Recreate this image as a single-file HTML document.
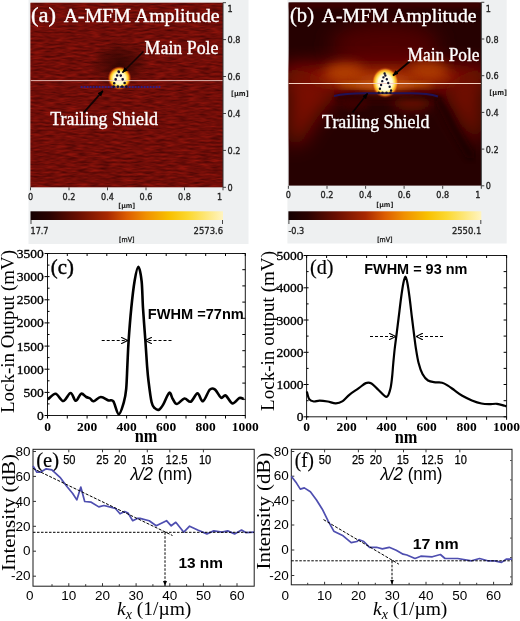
<!DOCTYPE html>
<html><head><meta charset="utf-8"><title>A-MFM figure</title>
<style>html,body{margin:0;padding:0;background:#fff;} svg{display:block;}</style>
</head><body>
<svg width="520" height="621" viewBox="0 0 520 621">
<defs>
<linearGradient id="cb" x1="0" x2="1" y1="0" y2="0">
 <stop offset="0" stop-color="#140000"/>
 <stop offset="0.1" stop-color="#2a0200"/>
 <stop offset="0.25" stop-color="#6a0e00"/>
 <stop offset="0.4" stop-color="#a82800"/>
 <stop offset="0.5" stop-color="#dc5c00"/>
 <stop offset="0.6" stop-color="#f09000"/>
 <stop offset="0.72" stop-color="#f8c000"/>
 <stop offset="0.82" stop-color="#fcd830"/>
 <stop offset="0.92" stop-color="#fde880"/>
 <stop offset="1" stop-color="#fff4c0"/>
</linearGradient>
<radialGradient id="hotA" cx="0.5" cy="0.5" r="0.5">
 <stop offset="0" stop-color="#fffff0"/>
 <stop offset="0.5" stop-color="#fff8c0"/>
 <stop offset="0.66" stop-color="#ffe040"/>
 <stop offset="0.8" stop-color="#f09010"/>
 <stop offset="0.92" stop-color="#b03008" stop-opacity="0.6"/>
 <stop offset="1" stop-color="#8a1e0c" stop-opacity="0"/>
</radialGradient>
<radialGradient id="darkA" cx="0.5" cy="0.5" r="0.5">
 <stop offset="0" stop-color="#2a0400" stop-opacity="0.85"/>
 <stop offset="0.55" stop-color="#3a0602" stop-opacity="0.55"/>
 <stop offset="1" stop-color="#400a02" stop-opacity="0"/>
</radialGradient>
<radialGradient id="hotB" cx="0.5" cy="0.5" r="0.5">
 <stop offset="0" stop-color="#ffffff"/>
 <stop offset="0.5" stop-color="#fffce0"/>
 <stop offset="0.68" stop-color="#ffe050"/>
 <stop offset="0.82" stop-color="#f09018"/>
 <stop offset="0.92" stop-color="#b84010" stop-opacity="0.5"/>
 <stop offset="1" stop-color="#a03008" stop-opacity="0"/>
</radialGradient>
<radialGradient id="glowB" cx="0.5" cy="0.5" r="0.5">
 <stop offset="0" stop-color="#c84c12" stop-opacity="0.9"/>
 <stop offset="0.5" stop-color="#a83210" stop-opacity="0.6"/>
 <stop offset="1" stop-color="#8a2410" stop-opacity="0"/>
</radialGradient>
<linearGradient id="bgB" x1="0" x2="0" y1="0" y2="1">
 <stop offset="0" stop-color="#4a0c08"/>
 <stop offset="0.2" stop-color="#581008"/>
 <stop offset="0.4" stop-color="#7c1e0c"/>
 <stop offset="0.5" stop-color="#6e180a"/>
 <stop offset="0.7" stop-color="#4c0e08"/>
 <stop offset="1" stop-color="#3c0a06"/>
</linearGradient>
<filter id="noiseA" x="0" y="0" width="1" height="1" color-interpolation-filters="sRGB">
 <feTurbulence type="fractalNoise" baseFrequency="0.09 0.5" numOctaves="2" seed="7"/>
 <feColorMatrix type="matrix" values="0.4 0 0 0 0.24  0.08 0 0 0 0.012  0.04 0 0 0 0.011  0 0 0 0 1"/>
</filter>
<filter id="blur2" x="-20%" y="-100%" width="140%" height="300%"><feGaussianBlur stdDeviation="2"/></filter>
<filter id="blur3"><feGaussianBlur stdDeviation="3"/></filter>
<filter id="blur6" x="-50%" y="-50%" width="200%" height="200%"><feGaussianBlur stdDeviation="6"/></filter>
<filter id="blur10" x="-50%" y="-50%" width="200%" height="200%"><feGaussianBlur stdDeviation="10"/></filter>
<clipPath id="clipA"><rect x="30.5" y="2.7" width="192.5" height="184.6"/></clipPath>
<clipPath id="clipB"><rect x="288.4" y="2.3" width="192.9" height="183.5"/></clipPath>
<marker id="ah" viewBox="0 0 10 10" refX="9" refY="5" markerWidth="7" markerHeight="7" orient="auto-start-reverse" markerUnits="userSpaceOnUse">
 <path d="M0,0 L10,5 L0,10" fill="none" stroke="#000" stroke-width="1.6"/>
</marker>
<marker id="ahs" viewBox="0 0 10 10" refX="9" refY="5" markerWidth="5" markerHeight="5" orient="auto" markerUnits="userSpaceOnUse">
 <path d="M0,0 L10,5 L0,10" fill="none" stroke="#000" stroke-width="1.5"/>
</marker>
<marker id="ahd" viewBox="0 0 10 10" refX="10" refY="5" markerWidth="5" markerHeight="5" orient="auto" markerUnits="userSpaceOnUse">
 <path d="M0,1 L10,5 L0,9 z" fill="#000"/>
</marker>
<marker id="ahf" viewBox="0 0 10 10" refX="9" refY="5" markerWidth="6" markerHeight="6" orient="auto" markerUnits="userSpaceOnUse">
 <path d="M0,1 L10,5 L0,9 z" fill="#000"/>
</marker>
</defs>
<rect width="520" height="621" fill="#fff"/>
<rect x="28.5" y="0" width="220.0" height="244" fill="#eef0f1"/>
<line x1="223" y1="187.3" x2="226" y2="187.3" stroke="#444" stroke-width="1"/>
<text x="227.5" y="190.8" font-family="'DejaVu Sans Condensed', 'DejaVu Sans', sans-serif" font-size="9" fill="#222" text-anchor="start" font-weight="normal" font-style="normal"  stroke="#222" stroke-width="0.3">0</text>
<line x1="223" y1="150.4" x2="226" y2="150.4" stroke="#444" stroke-width="1"/>
<text x="227.5" y="153.88" font-family="'DejaVu Sans Condensed', 'DejaVu Sans', sans-serif" font-size="9" fill="#222" text-anchor="start" font-weight="normal" font-style="normal"  stroke="#222" stroke-width="0.3">0.2</text>
<line x1="223" y1="113.5" x2="226" y2="113.5" stroke="#444" stroke-width="1"/>
<text x="227.5" y="116.96" font-family="'DejaVu Sans Condensed', 'DejaVu Sans', sans-serif" font-size="9" fill="#222" text-anchor="start" font-weight="normal" font-style="normal"  stroke="#222" stroke-width="0.3">0.4</text>
<line x1="223" y1="76.5" x2="226" y2="76.5" stroke="#444" stroke-width="1"/>
<text x="227.5" y="80.03999999999998" font-family="'DejaVu Sans Condensed', 'DejaVu Sans', sans-serif" font-size="9" fill="#222" text-anchor="start" font-weight="normal" font-style="normal"  stroke="#222" stroke-width="0.3">0.6</text>
<line x1="223" y1="39.6" x2="226" y2="39.6" stroke="#444" stroke-width="1"/>
<text x="227.5" y="43.119999999999976" font-family="'DejaVu Sans Condensed', 'DejaVu Sans', sans-serif" font-size="9" fill="#222" text-anchor="start" font-weight="normal" font-style="normal"  stroke="#222" stroke-width="0.3">0.8</text>
<line x1="223" y1="2.7" x2="226" y2="2.7" stroke="#444" stroke-width="1"/>
<text x="227.5" y="12.199999999999989" font-family="'DejaVu Sans Condensed', 'DejaVu Sans', sans-serif" font-size="9" fill="#222" text-anchor="start" font-weight="normal" font-style="normal"  stroke="#222" stroke-width="0.3">1</text>
<text x="231" y="95.6" font-family="'DejaVu Sans Condensed', 'DejaVu Sans', sans-serif" font-size="7.3" fill="#222" text-anchor="start" font-weight="bold" font-style="normal" >[µm]</text>
<line x1="30.5" y1="187.3" x2="30.5" y2="190.3" stroke="#444" stroke-width="1"/>
<text x="30.5" y="199.8" font-family="'DejaVu Sans Condensed', 'DejaVu Sans', sans-serif" font-size="9" fill="#222" text-anchor="middle" font-weight="normal" font-style="normal"  stroke="#222" stroke-width="0.3">0</text>
<line x1="69.0" y1="187.3" x2="69.0" y2="190.3" stroke="#444" stroke-width="1"/>
<text x="69.0" y="199.8" font-family="'DejaVu Sans Condensed', 'DejaVu Sans', sans-serif" font-size="9" fill="#222" text-anchor="middle" font-weight="normal" font-style="normal"  stroke="#222" stroke-width="0.3">0.2</text>
<line x1="107.5" y1="187.3" x2="107.5" y2="190.3" stroke="#444" stroke-width="1"/>
<text x="107.5" y="199.8" font-family="'DejaVu Sans Condensed', 'DejaVu Sans', sans-serif" font-size="9" fill="#222" text-anchor="middle" font-weight="normal" font-style="normal"  stroke="#222" stroke-width="0.3">0.4</text>
<line x1="146.0" y1="187.3" x2="146.0" y2="190.3" stroke="#444" stroke-width="1"/>
<text x="146.0" y="199.8" font-family="'DejaVu Sans Condensed', 'DejaVu Sans', sans-serif" font-size="9" fill="#222" text-anchor="middle" font-weight="normal" font-style="normal"  stroke="#222" stroke-width="0.3">0.6</text>
<line x1="184.5" y1="187.3" x2="184.5" y2="190.3" stroke="#444" stroke-width="1"/>
<text x="184.5" y="199.8" font-family="'DejaVu Sans Condensed', 'DejaVu Sans', sans-serif" font-size="9" fill="#222" text-anchor="middle" font-weight="normal" font-style="normal"  stroke="#222" stroke-width="0.3">0.8</text>
<line x1="223.0" y1="187.3" x2="223.0" y2="190.3" stroke="#444" stroke-width="1"/>
<text x="219.5" y="199.8" font-family="'DejaVu Sans Condensed', 'DejaVu Sans', sans-serif" font-size="9" fill="#222" text-anchor="middle" font-weight="normal" font-style="normal"  stroke="#222" stroke-width="0.3">1</text>
<text x="126.75" y="208.3" font-family="'DejaVu Sans Condensed', 'DejaVu Sans', sans-serif" font-size="7" fill="#222" text-anchor="middle" font-weight="bold" font-style="normal" >[µm]</text>
<rect x="30.5" y="211.3" width="192.5" height="8.7" fill="url(#cb)"/>
<line x1="31.0" y1="220" x2="31.0" y2="224" stroke="#444"/>
<line x1="222.5" y1="220" x2="222.5" y2="224" stroke="#444"/>
<text x="30.5" y="233.5" font-family="'DejaVu Sans Condensed', 'DejaVu Sans', sans-serif" font-size="9" fill="#222" text-anchor="start" font-weight="normal" font-style="normal"  stroke="#222" stroke-width="0.3">17.7</text>
<text x="223" y="233.5" font-family="'DejaVu Sans Condensed', 'DejaVu Sans', sans-serif" font-size="9.3" fill="#222" text-anchor="end" font-weight="normal" font-style="normal" textLength="29.4" lengthAdjust="spacingAndGlyphs"  stroke="#222" stroke-width="0.3">2573.6</text>
<text x="126.75" y="241.5" font-family="'DejaVu Sans Condensed', 'DejaVu Sans', sans-serif" font-size="7" fill="#222" text-anchor="middle" font-weight="normal" font-style="normal"  stroke="#222" stroke-width="0.3">[mV]</text>
<g clip-path="url(#clipA)">
<rect x="30.5" y="2.7" width="192.5" height="184.6" fill="#8a1e0c"/>
<rect x="30.5" y="2.7" width="192.5" height="184.6" fill="#000" filter="url(#noiseA)"/>
<ellipse cx="119.5" cy="64" rx="30" ry="24" fill="url(#darkA)"/>
<ellipse cx="119.5" cy="78.2" rx="12" ry="12" fill="url(#hotA)"/>
<line x1="30.5" y1="80.6" x2="223" y2="80.6" stroke="#f4d0c8" stroke-width="1" opacity="0.85"/>
<line x1="80.6" y1="87.1" x2="160.4" y2="87.1" stroke="#2c2090" stroke-width="2" stroke-dasharray="2 1" opacity="0.9"/>
<path d="M118.6,71.5 L113,86.6 L126.5,86.6 Z" fill="none" stroke="#100c30" stroke-width="2.6" stroke-linecap="round" stroke-dasharray="0 4.2"/>
<line x1="143.5" y1="51.5" x2="122.5" y2="72.5" stroke="#140404" stroke-width="1.6" marker-end="url(#ahf)"/>
<line x1="83.7" y1="112.7" x2="102.9" y2="90.8" stroke="#140404" stroke-width="1.8" marker-end="url(#ahf)"/>
</g>
<line x1="223" y1="2.7" x2="223" y2="187.3" stroke="#333" stroke-width="1"/>
<text x="31" y="21.5" font-family="'Liberation Serif', 'Times New Roman', serif" font-size="20" fill="#fff" text-anchor="start" font-weight="normal" font-style="normal" textLength="25" lengthAdjust="spacingAndGlyphs"  stroke="#fff" stroke-width="0.35">(a)</text>
<text x="63.8" y="22.3" font-family="'Liberation Serif', 'Times New Roman', serif" font-size="18.5" fill="#fff" text-anchor="start" font-weight="normal" font-style="normal" textLength="155.8" lengthAdjust="spacingAndGlyphs"  stroke="#fff" stroke-width="0.35">A-MFM Amplitude</text>
<text x="144.6" y="54.3" font-family="'Liberation Serif', 'Times New Roman', serif" font-size="17.8" fill="#fff" text-anchor="start" font-weight="normal" font-style="normal" textLength="73.9" lengthAdjust="spacingAndGlyphs"  stroke="#fff" stroke-width="0.35">Main Pole</text>
<text x="50.2" y="125" font-family="'Liberation Serif', 'Times New Roman', serif" font-size="18" fill="#fff" text-anchor="start" font-weight="normal" font-style="normal" textLength="107.7" lengthAdjust="spacingAndGlyphs"  stroke="#fff" stroke-width="0.35">Trailing Shield</text>
<rect x="287.4" y="0" width="219.3" height="243.5" fill="#eef0f1"/>
<line x1="481.3" y1="185.8" x2="484.3" y2="185.8" stroke="#444" stroke-width="1"/>
<text x="485.8" y="189.3" font-family="'DejaVu Sans Condensed', 'DejaVu Sans', sans-serif" font-size="9" fill="#222" text-anchor="start" font-weight="normal" font-style="normal"  stroke="#222" stroke-width="0.3">0</text>
<line x1="481.3" y1="149.1" x2="484.3" y2="149.1" stroke="#444" stroke-width="1"/>
<text x="485.8" y="152.60000000000002" font-family="'DejaVu Sans Condensed', 'DejaVu Sans', sans-serif" font-size="9" fill="#222" text-anchor="start" font-weight="normal" font-style="normal"  stroke="#222" stroke-width="0.3">0.2</text>
<line x1="481.3" y1="112.4" x2="484.3" y2="112.4" stroke="#444" stroke-width="1"/>
<text x="485.8" y="115.9" font-family="'DejaVu Sans Condensed', 'DejaVu Sans', sans-serif" font-size="9" fill="#222" text-anchor="start" font-weight="normal" font-style="normal"  stroke="#222" stroke-width="0.3">0.4</text>
<line x1="481.3" y1="75.7" x2="484.3" y2="75.7" stroke="#444" stroke-width="1"/>
<text x="485.8" y="79.19999999999999" font-family="'DejaVu Sans Condensed', 'DejaVu Sans', sans-serif" font-size="9" fill="#222" text-anchor="start" font-weight="normal" font-style="normal"  stroke="#222" stroke-width="0.3">0.6</text>
<line x1="481.3" y1="39.0" x2="484.3" y2="39.0" stroke="#444" stroke-width="1"/>
<text x="485.8" y="42.5" font-family="'DejaVu Sans Condensed', 'DejaVu Sans', sans-serif" font-size="9" fill="#222" text-anchor="start" font-weight="normal" font-style="normal"  stroke="#222" stroke-width="0.3">0.8</text>
<line x1="481.3" y1="2.3" x2="484.3" y2="2.3" stroke="#444" stroke-width="1"/>
<text x="485.8" y="11.800000000000011" font-family="'DejaVu Sans Condensed', 'DejaVu Sans', sans-serif" font-size="9" fill="#222" text-anchor="start" font-weight="normal" font-style="normal"  stroke="#222" stroke-width="0.3">1</text>
<text x="489.3" y="94.65" font-family="'DejaVu Sans Condensed', 'DejaVu Sans', sans-serif" font-size="7.3" fill="#222" text-anchor="start" font-weight="bold" font-style="normal" >[µm]</text>
<line x1="288.4" y1="185.8" x2="288.4" y2="188.8" stroke="#444" stroke-width="1"/>
<text x="288.4" y="198.3" font-family="'DejaVu Sans Condensed', 'DejaVu Sans', sans-serif" font-size="9" fill="#222" text-anchor="middle" font-weight="normal" font-style="normal"  stroke="#222" stroke-width="0.3">0</text>
<line x1="327.0" y1="185.8" x2="327.0" y2="188.8" stroke="#444" stroke-width="1"/>
<text x="326.98" y="198.3" font-family="'DejaVu Sans Condensed', 'DejaVu Sans', sans-serif" font-size="9" fill="#222" text-anchor="middle" font-weight="normal" font-style="normal"  stroke="#222" stroke-width="0.3">0.2</text>
<line x1="365.6" y1="185.8" x2="365.6" y2="188.8" stroke="#444" stroke-width="1"/>
<text x="365.56" y="198.3" font-family="'DejaVu Sans Condensed', 'DejaVu Sans', sans-serif" font-size="9" fill="#222" text-anchor="middle" font-weight="normal" font-style="normal"  stroke="#222" stroke-width="0.3">0.4</text>
<line x1="404.1" y1="185.8" x2="404.1" y2="188.8" stroke="#444" stroke-width="1"/>
<text x="404.14" y="198.3" font-family="'DejaVu Sans Condensed', 'DejaVu Sans', sans-serif" font-size="9" fill="#222" text-anchor="middle" font-weight="normal" font-style="normal"  stroke="#222" stroke-width="0.3">0.6</text>
<line x1="442.7" y1="185.8" x2="442.7" y2="188.8" stroke="#444" stroke-width="1"/>
<text x="442.72" y="198.3" font-family="'DejaVu Sans Condensed', 'DejaVu Sans', sans-serif" font-size="9" fill="#222" text-anchor="middle" font-weight="normal" font-style="normal"  stroke="#222" stroke-width="0.3">0.8</text>
<line x1="481.3" y1="185.8" x2="481.3" y2="188.8" stroke="#444" stroke-width="1"/>
<text x="477.8" y="198.3" font-family="'DejaVu Sans Condensed', 'DejaVu Sans', sans-serif" font-size="9" fill="#222" text-anchor="middle" font-weight="normal" font-style="normal"  stroke="#222" stroke-width="0.3">1</text>
<text x="384.85" y="206.8" font-family="'DejaVu Sans Condensed', 'DejaVu Sans', sans-serif" font-size="7" fill="#222" text-anchor="middle" font-weight="bold" font-style="normal" >[µm]</text>
<rect x="288.4" y="211.3" width="192.90000000000003" height="8.7" fill="url(#cb)"/>
<line x1="288.9" y1="220" x2="288.9" y2="224" stroke="#444"/>
<line x1="480.8" y1="220" x2="480.8" y2="224" stroke="#444"/>
<text x="288.4" y="233.5" font-family="'DejaVu Sans Condensed', 'DejaVu Sans', sans-serif" font-size="9" fill="#222" text-anchor="start" font-weight="normal" font-style="normal"  stroke="#222" stroke-width="0.3">-0.3</text>
<text x="481.3" y="233.5" font-family="'DejaVu Sans Condensed', 'DejaVu Sans', sans-serif" font-size="9.3" fill="#222" text-anchor="end" font-weight="normal" font-style="normal" textLength="29.4" lengthAdjust="spacingAndGlyphs"  stroke="#222" stroke-width="0.3">2550.1</text>
<text x="384.85" y="241.5" font-family="'DejaVu Sans Condensed', 'DejaVu Sans', sans-serif" font-size="7" fill="#222" text-anchor="middle" font-weight="normal" font-style="normal"  stroke="#222" stroke-width="0.3">[mV]</text>
<g clip-path="url(#clipB)">
<rect x="288.4" y="2.3" width="192.9" height="183.5" fill="#260101"/>
<rect x="288.4" y="2.3" width="192.9" height="6" fill="#3c0404" filter="url(#blur2)"/>
<ellipse cx="385" cy="45" rx="55" ry="22" fill="#500503" filter="url(#blur10)"/>
<ellipse cx="385" cy="76" rx="108" ry="15" fill="#800e03" filter="url(#blur10)"/>
<path d="M288,66 C310,72 330,80 342,92 L331,102 C320,112 310,128 303,142 L288,145 Z" fill="#7a0a02" filter="url(#blur10)"/>
<path d="M482,64 C465,72 450,82 440,92 C447,100 452,108 456,116 C462,128 470,138 482,145 Z" fill="#720a02" filter="url(#blur10)"/>
<ellipse cx="385" cy="78" rx="75" ry="9" fill="#901a04" filter="url(#blur6)"/>
<ellipse cx="345" cy="73" rx="20" ry="10" fill="#b03c06" filter="url(#blur6)"/>
<ellipse cx="428" cy="71" rx="20" ry="10" fill="#b03c06" opacity="0.9" filter="url(#blur6)"/>
<ellipse cx="385" cy="85" rx="48" ry="3.5" fill="#c05a08" filter="url(#blur3)"/>
<ellipse cx="412" cy="103" rx="19" ry="8" fill="#660a02" filter="url(#blur6)"/>
<path d="M336,99 C340,97 345,97 350,97 L426,97 C432,97 437,98 440,101" fill="none" stroke="#140101" stroke-width="4" opacity="0.6" filter="url(#blur2)"/>
<ellipse cx="355" cy="104" rx="14" ry="6" fill="#3c0402" filter="url(#blur3)"/>
<path d="M438,100 C444,106 448,116 452,124 C457,134 463,144 472,158" fill="none" stroke="#140101" stroke-width="6" opacity="0.8" filter="url(#blur3)"/>
<ellipse cx="385" cy="81.5" rx="27" ry="9" fill="#d06010" opacity="0.6" filter="url(#blur6)"/>
<ellipse cx="385.2" cy="82.5" rx="14" ry="15.5" fill="url(#hotB)"/>
<line x1="288.4" y1="83.5" x2="481.3" y2="83.5" stroke="#f4d0c0" stroke-width="1"/>
<path d="M334,96 C342,94 352,93.3 365,93.3 L410,93.3 C420,93.3 430,93.8 438,96.5" fill="none" stroke="#1c1460" stroke-width="2" opacity="0.9"/>
<path d="M384.6,73.5 L378.7,92.8 L392,92.8 Z" fill="none" stroke="#10102a" stroke-width="2.4" stroke-linecap="round" stroke-dasharray="0 4"/>
<line x1="409.6" y1="61.5" x2="393" y2="75.5" stroke="#080202" stroke-width="1.8" marker-end="url(#ahf)"/>
<line x1="352.5" y1="112.5" x2="367.5" y2="93.5" stroke="#080202" stroke-width="1.6" marker-end="url(#ahf)"/>
</g>
<line x1="481.3" y1="2.3" x2="481.3" y2="185.8" stroke="#333" stroke-width="1"/>
<text x="290" y="21.5" font-family="'Liberation Serif', 'Times New Roman', serif" font-size="20" fill="#fff" text-anchor="start" font-weight="normal" font-style="normal" textLength="24" lengthAdjust="spacingAndGlyphs"  stroke="#fff" stroke-width="0.35">(b)</text>
<text x="321.8" y="22" font-family="'Liberation Serif', 'Times New Roman', serif" font-size="18.5" fill="#fff" text-anchor="start" font-weight="normal" font-style="normal" textLength="154.7" lengthAdjust="spacingAndGlyphs"  stroke="#fff" stroke-width="0.35">A-MFM Amplitude</text>
<text x="407.6" y="60.8" font-family="'Liberation Serif', 'Times New Roman', serif" font-size="17.8" fill="#fff" text-anchor="start" font-weight="normal" font-style="normal" textLength="72" lengthAdjust="spacingAndGlyphs"  stroke="#fff" stroke-width="0.35">Main Pole</text>
<text x="322.1" y="128.3" font-family="'Liberation Serif', 'Times New Roman', serif" font-size="18" fill="#fff" text-anchor="start" font-weight="normal" font-style="normal" textLength="107.3" lengthAdjust="spacingAndGlyphs"  stroke="#fff" stroke-width="0.35">Trailing Shield</text>
<rect x="47.5" y="253.5" width="197.8" height="162.0" fill="none" stroke="#1a1a1a" stroke-width="1"/>
<path d="M47.5,415.5 v3 M47.5,253.5 v2.5 M67.3,415.5 v3 M67.3,253.5 v2.5 M87.1,415.5 v3 M87.1,253.5 v2.5 M106.8,415.5 v3 M106.8,253.5 v2.5 M126.6,415.5 v3 M126.6,253.5 v2.5 M146.4,415.5 v3 M146.4,253.5 v2.5 M166.2,415.5 v3 M166.2,253.5 v2.5 M186.0,415.5 v3 M186.0,253.5 v2.5 M205.7,415.5 v3 M205.7,253.5 v2.5 M225.5,415.5 v3 M225.5,253.5 v2.5 M245.3,415.5 v3 M245.3,253.5 v2.5 M47.5,415.5 h-3 M47.5,392.4 h-3 M47.5,369.2 h-3 M47.5,346.1 h-3 M47.5,322.9 h-3 M47.5,299.8 h-3 M47.5,276.6 h-3 M47.5,253.5 h-3 M47.5,415.5 h2 M47.5,403.9 h2 M47.5,392.4 h2 M47.5,380.8 h2 M47.5,369.2 h2 M47.5,357.6 h2 M47.5,346.1 h2 M47.5,334.5 h2 M47.5,322.9 h2 M47.5,311.4 h2 M47.5,299.8 h2 M47.5,288.2 h2 M47.5,276.6 h2 M47.5,265.1 h2 M47.5,253.5 h2 M245.3,415.5 h-3 M245.3,399.3 h-3 M245.3,383.1 h-3 M245.3,366.9 h-3 M245.3,350.7 h-3 M245.3,334.5 h-3 M245.3,318.3 h-3 M245.3,302.1 h-3 M245.3,285.9 h-3 M245.3,269.7 h-3 M245.3,253.5 h-3" stroke="#000" stroke-width="1" fill="none"/>
<text x="43.8" y="420.0" font-family="'Liberation Serif', 'Times New Roman', serif" font-size="13.5" fill="#000" text-anchor="end" font-weight="normal" font-style="normal" stroke="#000" stroke-width="0.35">0</text>
<text x="43.8" y="396.85714285714283" font-family="'Liberation Serif', 'Times New Roman', serif" font-size="13.5" fill="#000" text-anchor="end" font-weight="normal" font-style="normal" stroke="#000" stroke-width="0.35">500</text>
<text x="43.8" y="373.7142857142857" font-family="'Liberation Serif', 'Times New Roman', serif" font-size="13.5" fill="#000" text-anchor="end" font-weight="normal" font-style="normal" stroke="#000" stroke-width="0.35">1000</text>
<text x="43.8" y="350.57142857142856" font-family="'Liberation Serif', 'Times New Roman', serif" font-size="13.5" fill="#000" text-anchor="end" font-weight="normal" font-style="normal" stroke="#000" stroke-width="0.35">1500</text>
<text x="43.8" y="327.42857142857144" font-family="'Liberation Serif', 'Times New Roman', serif" font-size="13.5" fill="#000" text-anchor="end" font-weight="normal" font-style="normal" stroke="#000" stroke-width="0.35">2000</text>
<text x="43.8" y="304.2857142857143" font-family="'Liberation Serif', 'Times New Roman', serif" font-size="13.5" fill="#000" text-anchor="end" font-weight="normal" font-style="normal" stroke="#000" stroke-width="0.35">2500</text>
<text x="43.8" y="281.1428571428571" font-family="'Liberation Serif', 'Times New Roman', serif" font-size="13.5" fill="#000" text-anchor="end" font-weight="normal" font-style="normal" stroke="#000" stroke-width="0.35">3000</text>
<text x="43.8" y="258.0" font-family="'Liberation Serif', 'Times New Roman', serif" font-size="13.5" fill="#000" text-anchor="end" font-weight="normal" font-style="normal" stroke="#000" stroke-width="0.35">3500</text>
<text x="47.5" y="430.8" font-family="'Liberation Serif', 'Times New Roman', serif" font-size="13.5" fill="#000" text-anchor="middle" font-weight="bold" font-style="normal" >0</text>
<text x="87.06" y="430.8" font-family="'Liberation Serif', 'Times New Roman', serif" font-size="13.5" fill="#000" text-anchor="middle" font-weight="bold" font-style="normal" >200</text>
<text x="126.62" y="430.8" font-family="'Liberation Serif', 'Times New Roman', serif" font-size="13.5" fill="#000" text-anchor="middle" font-weight="bold" font-style="normal" >400</text>
<text x="166.18" y="430.8" font-family="'Liberation Serif', 'Times New Roman', serif" font-size="13.5" fill="#000" text-anchor="middle" font-weight="bold" font-style="normal" >600</text>
<text x="205.74" y="430.8" font-family="'Liberation Serif', 'Times New Roman', serif" font-size="13.5" fill="#000" text-anchor="middle" font-weight="bold" font-style="normal" >800</text>
<text x="245.3" y="430.8" font-family="'Liberation Serif', 'Times New Roman', serif" font-size="13.5" fill="#000" text-anchor="middle" font-weight="bold" font-style="normal" >1000</text>
<text x="146" y="442" font-family="'Liberation Serif', 'Times New Roman', serif" font-size="19" fill="#000" text-anchor="middle" font-weight="bold" font-style="normal" textLength="22.7" lengthAdjust="spacingAndGlyphs" >nm</text>
<text transform="translate(14,413) rotate(-90)" font-family="'Liberation Serif', 'Times New Roman', serif" font-size="19.5" textLength="163" lengthAdjust="spacingAndGlyphs">Lock-in Output (mV)</text>
<text x="50.8" y="273.8" font-family="'Liberation Serif', 'Times New Roman', serif" font-size="22" textLength="23" lengthAdjust="spacingAndGlyphs" stroke="#000" stroke-width="0.45">(c)</text>
<text x="147.8" y="318.8" font-family="'Liberation Sans', Arial, sans-serif" font-size="14.6" fill="#000" text-anchor="start" font-weight="bold" font-style="normal" textLength="96" lengthAdjust="spacingAndGlyphs" >FWHM =77nm</text>
<path d="M47.90,399.40 C49.18,398.45 53.03,393.43 55.60,393.70 C58.17,393.97 60.80,401.12 63.30,401.00 C65.80,400.88 68.52,393.03 70.60,393.00 C72.68,392.97 74.03,400.68 75.80,400.80 C77.57,400.92 79.45,394.33 81.20,393.70 C82.95,393.07 84.80,396.20 86.30,397.00 C87.80,397.80 89.00,397.78 90.20,398.50 C91.40,399.22 91.73,401.55 93.50,401.30 C95.27,401.05 98.30,397.15 100.80,397.00 C103.30,396.85 106.42,399.68 108.50,400.40 C110.58,401.12 111.60,399.00 113.30,401.30 C115.00,403.60 116.95,414.03 118.70,414.20 C120.45,414.37 122.55,406.53 123.80,402.30 C125.05,398.07 125.60,395.02 126.20,388.80 C126.80,382.58 127.00,372.97 127.40,365.00 C127.80,357.03 127.95,350.50 128.60,341.00 C129.25,331.50 130.30,318.00 131.30,308.00 C132.30,298.00 133.43,287.87 134.60,281.00 C135.77,274.13 137.13,266.80 138.30,266.80 C139.47,266.80 140.82,274.13 141.60,281.00 C142.38,287.87 142.37,298.00 143.00,308.00 C143.63,318.00 144.73,331.50 145.40,341.00 C146.07,350.50 146.48,358.33 147.00,365.00 C147.52,371.67 147.73,374.78 148.50,381.00 C149.27,387.22 150.55,397.77 151.60,402.30 C152.65,406.83 153.57,406.97 154.80,408.20 C156.03,409.43 157.58,410.33 159.00,409.70 C160.42,409.07 161.60,407.22 163.30,404.40 C165.00,401.58 167.62,393.68 169.20,392.80 C170.78,391.92 171.50,397.23 172.80,399.10 C174.10,400.97 175.07,404.10 177.00,404.00 C178.93,403.90 182.10,398.88 184.40,398.50 C186.70,398.12 188.62,402.55 190.80,401.70 C192.98,400.85 195.47,393.47 197.50,393.40 C199.53,393.33 200.95,401.93 203.00,401.30 C205.05,400.67 207.78,391.55 209.80,389.60 C211.82,387.65 213.23,388.25 215.10,389.60 C216.97,390.95 219.23,396.72 221.00,397.70 C222.77,398.68 223.80,394.55 225.70,395.50 C227.60,396.45 230.12,402.98 232.40,403.40 C234.68,403.82 237.52,398.73 239.40,398.00 C241.28,397.27 242.98,398.83 243.70,399.00" fill="none" stroke="#000" stroke-width="2.6" stroke-linejoin="round"/>
<line x1="101.7" y1="340.5" x2="127" y2="340.5" stroke="#000" stroke-width="1.2" stroke-dasharray="3 2" marker-end="url(#ah)"/>
<line x1="171.5" y1="340.5" x2="146" y2="340.5" stroke="#000" stroke-width="1.2" stroke-dasharray="3 2" marker-end="url(#ah)"/>
<rect x="306.6" y="255.5" width="200.0" height="161.3" fill="none" stroke="#1a1a1a" stroke-width="1"/>
<path d="M306.6,416.8 v3 M306.6,255.5 v2.5 M326.6,416.8 v3 M326.6,255.5 v2.5 M346.6,416.8 v3 M346.6,255.5 v2.5 M366.6,416.8 v3 M366.6,255.5 v2.5 M386.6,416.8 v3 M386.6,255.5 v2.5 M406.6,416.8 v3 M406.6,255.5 v2.5 M426.6,416.8 v3 M426.6,255.5 v2.5 M446.6,416.8 v3 M446.6,255.5 v2.5 M466.6,416.8 v3 M466.6,255.5 v2.5 M486.6,416.8 v3 M486.6,255.5 v2.5 M506.6,416.8 v3 M506.6,255.5 v2.5 M306.6,416.8 h-3 M306.6,384.5 h-3 M306.6,352.3 h-3 M306.6,320.0 h-3 M306.6,287.8 h-3 M306.6,255.5 h-3 M306.6,416.8 h2 M506.6,416.8 h-3 M306.6,400.7 h2 M506.6,400.7 h-3 M306.6,384.5 h2 M506.6,384.5 h-3 M306.6,368.4 h2 M506.6,368.4 h-3 M306.6,352.3 h2 M506.6,352.3 h-3 M306.6,336.1 h2 M506.6,336.1 h-3 M306.6,320.0 h2 M506.6,320.0 h-3 M306.6,303.9 h2 M506.6,303.9 h-3 M306.6,287.8 h2 M506.6,287.8 h-3 M306.6,271.6 h2 M506.6,271.6 h-3 M306.6,255.5 h2 M506.6,255.5 h-3" stroke="#000" stroke-width="1" fill="none"/>
<text x="303.5" y="421.3" font-family="'Liberation Serif', 'Times New Roman', serif" font-size="13.5" fill="#000" text-anchor="end" font-weight="normal" font-style="normal" stroke="#000" stroke-width="0.35">0</text>
<text x="303.5" y="389.04" font-family="'Liberation Serif', 'Times New Roman', serif" font-size="13.5" fill="#000" text-anchor="end" font-weight="normal" font-style="normal" stroke="#000" stroke-width="0.35">1000</text>
<text x="303.5" y="356.78" font-family="'Liberation Serif', 'Times New Roman', serif" font-size="13.5" fill="#000" text-anchor="end" font-weight="normal" font-style="normal" stroke="#000" stroke-width="0.35">2000</text>
<text x="303.5" y="324.52" font-family="'Liberation Serif', 'Times New Roman', serif" font-size="13.5" fill="#000" text-anchor="end" font-weight="normal" font-style="normal" stroke="#000" stroke-width="0.35">3000</text>
<text x="303.5" y="292.26" font-family="'Liberation Serif', 'Times New Roman', serif" font-size="13.5" fill="#000" text-anchor="end" font-weight="normal" font-style="normal" stroke="#000" stroke-width="0.35">4000</text>
<text x="303.5" y="260.0" font-family="'Liberation Serif', 'Times New Roman', serif" font-size="13.5" fill="#000" text-anchor="end" font-weight="normal" font-style="normal" stroke="#000" stroke-width="0.35">5000</text>
<text x="306.6" y="431" font-family="'Liberation Serif', 'Times New Roman', serif" font-size="13.5" fill="#000" text-anchor="middle" font-weight="bold" font-style="normal" >0</text>
<text x="346.6" y="431" font-family="'Liberation Serif', 'Times New Roman', serif" font-size="13.5" fill="#000" text-anchor="middle" font-weight="bold" font-style="normal" >200</text>
<text x="386.6" y="431" font-family="'Liberation Serif', 'Times New Roman', serif" font-size="13.5" fill="#000" text-anchor="middle" font-weight="bold" font-style="normal" >400</text>
<text x="426.6" y="431" font-family="'Liberation Serif', 'Times New Roman', serif" font-size="13.5" fill="#000" text-anchor="middle" font-weight="bold" font-style="normal" >600</text>
<text x="466.6" y="431" font-family="'Liberation Serif', 'Times New Roman', serif" font-size="13.5" fill="#000" text-anchor="middle" font-weight="bold" font-style="normal" >800</text>
<text x="506.6" y="431" font-family="'Liberation Serif', 'Times New Roman', serif" font-size="13.5" fill="#000" text-anchor="middle" font-weight="bold" font-style="normal" >1000</text>
<text x="406" y="443" font-family="'Liberation Serif', 'Times New Roman', serif" font-size="19" fill="#000" text-anchor="middle" font-weight="bold" font-style="normal" textLength="22.7" lengthAdjust="spacingAndGlyphs" >nm</text>
<text transform="translate(274.4,411) rotate(-90)" font-family="'Liberation Serif', 'Times New Roman', serif" font-size="19" textLength="160" lengthAdjust="spacingAndGlyphs">Lock-in output (mV)</text>
<text x="310" y="273.8" font-family="'Liberation Serif', 'Times New Roman', serif" font-size="22" fill="#000" text-anchor="start" font-weight="normal" font-style="normal" textLength="23.5" lengthAdjust="spacingAndGlyphs" stroke="#000" stroke-width="0.2">(d)</text>
<text x="364.2" y="273.5" font-family="'Liberation Sans', Arial, sans-serif" font-size="14.4" fill="#000" text-anchor="start" font-weight="bold" font-style="normal" textLength="103.2" lengthAdjust="spacingAndGlyphs" >FWHM = 93 nm</text>
<path d="M306.80,391.50 C307.20,392.78 308.03,397.53 309.20,399.20 C310.37,400.87 312.07,401.27 313.80,401.50 C315.53,401.73 317.28,400.60 319.60,400.60 C321.92,400.60 325.00,401.03 327.70,401.50 C330.40,401.97 333.30,403.47 335.80,403.40 C338.30,403.33 340.40,402.57 342.70,401.10 C345.00,399.63 346.92,396.75 349.60,394.60 C352.28,392.45 356.10,390.12 358.80,388.20 C361.50,386.28 363.68,383.88 365.80,383.10 C367.92,382.32 369.38,382.35 371.50,383.50 C373.62,384.65 376.00,387.77 378.50,390.00 C381.00,392.23 384.55,396.98 386.50,396.90 C388.45,396.82 389.28,392.65 390.20,389.50 C391.12,386.35 391.48,382.42 392.00,378.00 C392.52,373.58 392.83,368.00 393.30,363.00 C393.77,358.00 394.25,352.83 394.80,348.00 C395.35,343.17 395.97,339.00 396.60,334.00 C397.23,329.00 397.83,324.17 398.60,318.00 C399.37,311.83 400.40,302.83 401.20,297.00 C402.00,291.17 402.70,286.40 403.40,283.00 C404.10,279.60 404.73,276.60 405.40,276.60 C406.07,276.60 406.72,279.60 407.40,283.00 C408.08,286.40 408.73,291.17 409.50,297.00 C410.27,302.83 411.25,311.83 412.00,318.00 C412.75,324.17 413.33,328.83 414.00,334.00 C414.67,339.17 415.23,344.17 416.00,349.00 C416.77,353.83 417.52,358.83 418.60,363.00 C419.68,367.17 420.93,371.08 422.50,374.00 C424.07,376.92 425.85,379.12 428.00,380.50 C430.15,381.88 433.05,381.93 435.40,382.30 C437.75,382.67 440.02,382.15 442.10,382.70 C444.18,383.25 445.82,384.32 447.90,385.60 C449.98,386.88 452.20,388.70 454.60,390.40 C457.00,392.10 459.42,394.13 462.30,395.80 C465.18,397.47 468.70,399.12 471.90,400.40 C475.10,401.68 478.62,402.87 481.50,403.50 C484.38,404.13 486.63,404.15 489.20,404.20 C491.77,404.25 494.33,403.53 496.90,403.80 C499.47,404.07 503.02,405.35 504.60,405.80 C506.18,406.25 506.10,406.38 506.40,406.50" fill="none" stroke="#000" stroke-width="2.2" stroke-linejoin="round"/>
<line x1="370" y1="336.5" x2="395" y2="336.5" stroke="#000" stroke-width="1.2" stroke-dasharray="3 2" marker-end="url(#ah)"/>
<line x1="443" y1="336.5" x2="416.8" y2="336.5" stroke="#000" stroke-width="1.2" stroke-dasharray="3 2" marker-end="url(#ah)"/>
<rect x="33" y="449.3" width="221.2" height="136.90000000000003" fill="none" stroke="#1a1a1a" stroke-width="1"/>
<path d="M52.0,586.2 v-2 M68.8,586.2 v-3 M85.7,586.2 v-2 M102.5,586.2 v-3 M119.3,586.2 v-2 M136.1,586.2 v-3 M152.9,586.2 v-2 M169.8,586.2 v-3 M186.6,586.2 v-2 M203.4,586.2 v-3 M220.2,586.2 v-2 M237.0,586.2 v-3 M33,451.5 h3 M33,476.4 h3 M33,501.4 h3 M33,526.3 h3 M33,551.2 h3 M33,576.2 h3" stroke="#333" stroke-width="1" fill="none"/>
<path d="M68.8,449.3 v3 M102.5,449.3 v3 M119.3,449.3 v3 M147.3,449.3 v3 M169.8,449.3 v3 M203.4,449.3 v3" stroke="#333" stroke-width="1" fill="none"/>
<text x="69.3" y="463.8" font-family="'Liberation Sans', Arial, sans-serif" font-size="13" fill="#000" text-anchor="middle" font-weight="normal" font-style="normal" textLength="12.3" lengthAdjust="spacingAndGlyphs" stroke="#000" stroke-width="0.25">50</text>
<text x="102.5" y="463.8" font-family="'Liberation Sans', Arial, sans-serif" font-size="13" fill="#000" text-anchor="middle" font-weight="normal" font-style="normal" textLength="12.3" lengthAdjust="spacingAndGlyphs" stroke="#000" stroke-width="0.25">25</text>
<text x="120.2" y="463.8" font-family="'Liberation Sans', Arial, sans-serif" font-size="13" fill="#000" text-anchor="middle" font-weight="normal" font-style="normal" textLength="12.3" lengthAdjust="spacingAndGlyphs" stroke="#000" stroke-width="0.25">20</text>
<text x="147.2" y="463.8" font-family="'Liberation Sans', Arial, sans-serif" font-size="13" fill="#000" text-anchor="middle" font-weight="normal" font-style="normal" textLength="12.3" lengthAdjust="spacingAndGlyphs" stroke="#000" stroke-width="0.25">15</text>
<text x="176.6" y="463.8" font-family="'Liberation Sans', Arial, sans-serif" font-size="13" fill="#000" text-anchor="middle" font-weight="normal" font-style="normal" textLength="22" lengthAdjust="spacingAndGlyphs" stroke="#000" stroke-width="0.25">12.5</text>
<text x="205.1" y="463.8" font-family="'Liberation Sans', Arial, sans-serif" font-size="13" fill="#000" text-anchor="middle" font-weight="normal" font-style="normal" textLength="12.3" lengthAdjust="spacingAndGlyphs" stroke="#000" stroke-width="0.25">10</text>
<text x="30.5" y="455.7" font-family="'Liberation Sans', Arial, sans-serif" font-size="13.5" fill="#000" text-anchor="end" font-weight="normal" font-style="normal" >80</text>
<text x="30.5" y="480.59999999999997" font-family="'Liberation Sans', Arial, sans-serif" font-size="13.5" fill="#000" text-anchor="end" font-weight="normal" font-style="normal" >60</text>
<text x="30.5" y="505.59999999999997" font-family="'Liberation Sans', Arial, sans-serif" font-size="13.5" fill="#000" text-anchor="end" font-weight="normal" font-style="normal" >40</text>
<text x="30.5" y="530.5" font-family="'Liberation Sans', Arial, sans-serif" font-size="13.5" fill="#000" text-anchor="end" font-weight="normal" font-style="normal" >20</text>
<text x="30.5" y="555.4000000000001" font-family="'Liberation Sans', Arial, sans-serif" font-size="13.5" fill="#000" text-anchor="end" font-weight="normal" font-style="normal" >0</text>
<text x="30.5" y="580.4000000000001" font-family="'Liberation Sans', Arial, sans-serif" font-size="13.5" fill="#000" text-anchor="end" font-weight="normal" font-style="normal" >-20</text>
<text x="29.700000000000003" y="600" font-family="'Liberation Sans', Arial, sans-serif" font-size="13.5" fill="#000" text-anchor="middle" font-weight="normal" font-style="normal" >0</text>
<text x="68.84" y="600" font-family="'Liberation Sans', Arial, sans-serif" font-size="13.5" fill="#000" text-anchor="middle" font-weight="normal" font-style="normal" >10</text>
<text x="102.48" y="600" font-family="'Liberation Sans', Arial, sans-serif" font-size="13.5" fill="#000" text-anchor="middle" font-weight="normal" font-style="normal" >20</text>
<text x="136.12" y="600" font-family="'Liberation Sans', Arial, sans-serif" font-size="13.5" fill="#000" text-anchor="middle" font-weight="normal" font-style="normal" >30</text>
<text x="169.76" y="600" font-family="'Liberation Sans', Arial, sans-serif" font-size="13.5" fill="#000" text-anchor="middle" font-weight="normal" font-style="normal" >40</text>
<text x="203.39999999999998" y="600" font-family="'Liberation Sans', Arial, sans-serif" font-size="13.5" fill="#000" text-anchor="middle" font-weight="normal" font-style="normal" >50</text>
<text x="237.04000000000002" y="600" font-family="'Liberation Sans', Arial, sans-serif" font-size="13.5" fill="#000" text-anchor="middle" font-weight="normal" font-style="normal" >60</text>
<text x="36.2" y="467" font-family="'Liberation Serif', 'Times New Roman', serif" font-size="22" textLength="23" lengthAdjust="spacingAndGlyphs" stroke="#000" stroke-width="0.2">(e)</text>
<text x="117" y="614.5" font-family="'Liberation Serif', 'Times New Roman', serif" font-size="19.5"><tspan font-style="italic">k</tspan><tspan font-style="italic" font-size="14" dy="4">x</tspan><tspan dy="-4"> (1/µm)</tspan></text>
<text transform="translate(14.5,571) rotate(-90)" font-family="'Liberation Serif', 'Times New Roman', serif" font-size="19.5" textLength="117" lengthAdjust="spacingAndGlyphs">Intensity (dB)</text>
<text x="130.5" y="479.5" font-family="'Liberation Sans', Arial, sans-serif" font-size="17.5" textLength="62" lengthAdjust="spacingAndGlyphs"><tspan font-style="italic">λ/2</tspan> (nm)</text>
<polyline points="33.0,466.0 36.9,472.2 40.4,472.2 46.2,468.8 51.9,469.9 60.0,477.3 66.9,486.5 72.7,493.5 76.8,499.9 80.8,487.0 84.7,501.5 91.2,502.2 98.8,506.9 103.9,505.5 109.6,506.9 115.4,508.5 120.0,513.8 124.6,511.5 128.1,513.1 132.7,520.7 137.3,518.4 140.0,518.4 149.2,520.7 156.2,525.8 161.9,523.0 166.5,520.7 171.2,525.8 175.8,522.3 183.8,532.2 189.6,526.2 197.7,530.0 206.9,533.9 213.8,530.9 221.9,532.2 227.7,530.9 234.6,533.9 241.5,530.0 246.2,532.7 254.2,532.2" fill="none" stroke="#4e4eb0" stroke-width="1.7" stroke-linejoin="round"/>
<line x1="33" y1="468.4" x2="172.5" y2="535.5" stroke="#000" stroke-width="1" stroke-dasharray="3 1.5"/>
<line x1="33" y1="532.3" x2="254" y2="532.3" stroke="#000" stroke-width="1" stroke-dasharray="2.5 1.5"/>
<line x1="165" y1="532.3" x2="165" y2="586" stroke="#000" stroke-width="1" stroke-dasharray="2.5 1.5" marker-end="url(#ahd)"/>
<text x="178.4" y="568" font-family="'Liberation Sans', Arial, sans-serif" font-size="15.5" fill="#000" text-anchor="start" font-weight="bold" font-style="normal" textLength="44.6" lengthAdjust="spacingAndGlyphs" >13 nm</text>
<rect x="291.3" y="449.3" width="220.7" height="135.49999999999994" fill="none" stroke="#1a1a1a" stroke-width="1"/>
<path d="M307.7,584.8 v-2 M324.6,584.8 v-3 M341.5,584.8 v-2 M358.4,584.8 v-3 M375.3,584.8 v-2 M392.2,584.8 v-3 M409.1,584.8 v-2 M426.0,584.8 v-3 M442.9,584.8 v-2 M459.8,584.8 v-3 M476.7,584.8 v-2 M493.6,584.8 v-3 M510.5,584.8 v-2 M291.3,451.5 h3 M291.3,476.2 h3 M291.3,500.7 h3 M291.3,525.0 h3 M291.3,550.0 h3 M291.3,575.5 h3" stroke="#333" stroke-width="1" fill="none"/>
<path d="M324.6,449.3 v3 M358.4,449.3 v3 M375.3,449.3 v3 M403.5,449.3 v3 M426.0,449.3 v3 M459.8,449.3 v3" stroke="#333" stroke-width="1" fill="none"/>
<text x="324.9" y="463.8" font-family="'Liberation Sans', Arial, sans-serif" font-size="13" fill="#000" text-anchor="middle" font-weight="normal" font-style="normal" textLength="12.3" lengthAdjust="spacingAndGlyphs" stroke="#000" stroke-width="0.25">50</text>
<text x="358.1" y="463.8" font-family="'Liberation Sans', Arial, sans-serif" font-size="13" fill="#000" text-anchor="middle" font-weight="normal" font-style="normal" textLength="12.3" lengthAdjust="spacingAndGlyphs" stroke="#000" stroke-width="0.25">25</text>
<text x="375.8" y="463.8" font-family="'Liberation Sans', Arial, sans-serif" font-size="13" fill="#000" text-anchor="middle" font-weight="normal" font-style="normal" textLength="12.3" lengthAdjust="spacingAndGlyphs" stroke="#000" stroke-width="0.25">20</text>
<text x="402.8" y="463.8" font-family="'Liberation Sans', Arial, sans-serif" font-size="13" fill="#000" text-anchor="middle" font-weight="normal" font-style="normal" textLength="12.3" lengthAdjust="spacingAndGlyphs" stroke="#000" stroke-width="0.25">15</text>
<text x="432.2" y="463.8" font-family="'Liberation Sans', Arial, sans-serif" font-size="13" fill="#000" text-anchor="middle" font-weight="normal" font-style="normal" textLength="22" lengthAdjust="spacingAndGlyphs" stroke="#000" stroke-width="0.25">12.5</text>
<text x="460.7" y="463.8" font-family="'Liberation Sans', Arial, sans-serif" font-size="13" fill="#000" text-anchor="middle" font-weight="normal" font-style="normal" textLength="12.3" lengthAdjust="spacingAndGlyphs" stroke="#000" stroke-width="0.25">10</text>
<text x="288.8" y="455.7" font-family="'Liberation Sans', Arial, sans-serif" font-size="13.5" fill="#000" text-anchor="end" font-weight="normal" font-style="normal" >80</text>
<text x="288.8" y="480.4" font-family="'Liberation Sans', Arial, sans-serif" font-size="13.5" fill="#000" text-anchor="end" font-weight="normal" font-style="normal" >60</text>
<text x="288.8" y="504.9" font-family="'Liberation Sans', Arial, sans-serif" font-size="13.5" fill="#000" text-anchor="end" font-weight="normal" font-style="normal" >40</text>
<text x="288.8" y="529.2" font-family="'Liberation Sans', Arial, sans-serif" font-size="13.5" fill="#000" text-anchor="end" font-weight="normal" font-style="normal" >20</text>
<text x="288.8" y="554.2" font-family="'Liberation Sans', Arial, sans-serif" font-size="13.5" fill="#000" text-anchor="end" font-weight="normal" font-style="normal" >0</text>
<text x="288.8" y="579.7" font-family="'Liberation Sans', Arial, sans-serif" font-size="13.5" fill="#000" text-anchor="end" font-weight="normal" font-style="normal" >-20</text>
<text x="285.3" y="600" font-family="'Liberation Sans', Arial, sans-serif" font-size="13.5" fill="#000" text-anchor="middle" font-weight="normal" font-style="normal" >0</text>
<text x="324.6" y="600" font-family="'Liberation Sans', Arial, sans-serif" font-size="13.5" fill="#000" text-anchor="middle" font-weight="normal" font-style="normal" >10</text>
<text x="358.4" y="600" font-family="'Liberation Sans', Arial, sans-serif" font-size="13.5" fill="#000" text-anchor="middle" font-weight="normal" font-style="normal" >20</text>
<text x="392.2" y="600" font-family="'Liberation Sans', Arial, sans-serif" font-size="13.5" fill="#000" text-anchor="middle" font-weight="normal" font-style="normal" >30</text>
<text x="426.0" y="600" font-family="'Liberation Sans', Arial, sans-serif" font-size="13.5" fill="#000" text-anchor="middle" font-weight="normal" font-style="normal" >40</text>
<text x="459.8" y="600" font-family="'Liberation Sans', Arial, sans-serif" font-size="13.5" fill="#000" text-anchor="middle" font-weight="normal" font-style="normal" >50</text>
<text x="493.6" y="600" font-family="'Liberation Sans', Arial, sans-serif" font-size="13.5" fill="#000" text-anchor="middle" font-weight="normal" font-style="normal" >60</text>
<text x="294.8" y="467" font-family="'Liberation Serif', 'Times New Roman', serif" font-size="22" textLength="19.2" lengthAdjust="spacingAndGlyphs" stroke="#000" stroke-width="0.2">(f)</text>
<text x="373" y="614.5" font-family="'Liberation Serif', 'Times New Roman', serif" font-size="19.5"><tspan font-style="italic">k</tspan><tspan font-style="italic" font-size="14" dy="4">x</tspan><tspan dy="-4"> (1/µm)</tspan></text>
<text transform="translate(270.2,569.5) rotate(-90)" font-family="'Liberation Serif', 'Times New Roman', serif" font-size="19.5" textLength="117" lengthAdjust="spacingAndGlyphs">Intensity (dB)</text>
<text x="380.5" y="479.5" font-family="'Liberation Sans', Arial, sans-serif" font-size="17.5" textLength="62" lengthAdjust="spacingAndGlyphs"><tspan font-style="italic">λ/2</tspan> (nm)</text>
<path d="M512,460.5 h-2 M512,479.9 h-2 M512,499.3 h-2 M512,518.7 h-2 M512,538.1 h-2 M512,557.5 h-2 M512,576.9 h-2" stroke="#555" stroke-width="1" fill="none"/>
<polyline points="291.3,476.2 296.5,483.1 300.3,489.1 304.3,487.9 310.4,491.7 316.5,500.0 322.3,509.2 328.1,520.8 333.8,531.2 343.1,535.8 351.2,542.7 356.9,541.5 359.2,539.7 363.8,541.5 369.6,547.3 376.5,547.3 382.3,548.9 389.2,547.3 396.2,550.3 403.1,554.2 406.9,555.0 415.0,558.5 420.8,556.2 432.3,556.8 440.4,554.5 445.0,558.5 457.7,558.5 471.5,560.8 479.6,558.5 487.7,560.8 494.6,560.8 501.5,562.4 506.2,559.2 512.0,559.2" fill="none" stroke="#4e4eb0" stroke-width="1.7" stroke-linejoin="round"/>
<line x1="323.5" y1="519.6" x2="398.9" y2="564.2" stroke="#000" stroke-width="1" stroke-dasharray="3 1.5"/>
<line x1="291.3" y1="560.8" x2="512" y2="560.8" stroke="#000" stroke-width="1" stroke-dasharray="2.5 1.5"/>
<line x1="392" y1="560.8" x2="392" y2="584.5" stroke="#000" stroke-width="1" stroke-dasharray="2.5 1.5" marker-end="url(#ahd)"/>
<text x="412.7" y="549" font-family="'Liberation Sans', Arial, sans-serif" font-size="15.5" fill="#000" text-anchor="start" font-weight="bold" font-style="normal" textLength="46.1" lengthAdjust="spacingAndGlyphs" >17 nm</text>
</svg>
</body></html>
